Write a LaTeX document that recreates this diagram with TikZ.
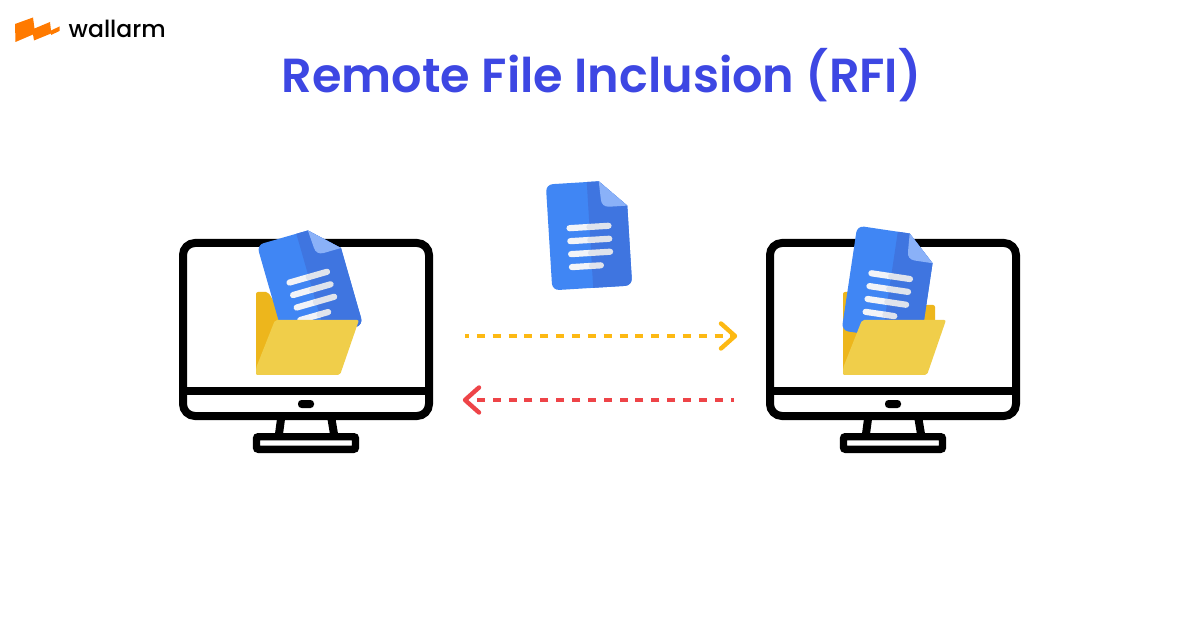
\documentclass[tikz,border=0pt]{standalone}
\usepackage{fontspec}
\newfontfamily\titlefont{Poppins SemiBold}
\newfontfamily\brandfont{Poppins Medium}
\usetikzlibrary{calc}
\definecolor{titleblue}{HTML}{3D47E3}
\definecolor{docblue}{HTML}{4086F4}
\definecolor{docdark}{HTML}{3F75E0}
\definecolor{docfold}{HTML}{8AB1F8}
\definecolor{backfold}{HTML}{EDB61C}
\definecolor{frontfold}{HTML}{F0CE4A}
\definecolor{arrowyellow}{HTML}{FDB913}
\definecolor{arrowred}{HTML}{EE4448}
\definecolor{logoorange}{HTML}{FF7A00}
\definecolor{linelight}{HTML}{F2F4F8}
\definecolor{lineshade}{HTML}{DFE3EC}
\newcommand{\docoutline}{(-33,-53) -- (13,-53) -- (40,-27) -- (40,46) .. controls (40,50) and (37,53) .. (33,53) -- (-33,53) .. controls (-37,53) and (-40,50) .. (-40,46) -- (-40,-46) .. controls (-40,-50) and (-37,-53) .. (-33,-53) -- cycle}
\tikzset{
  x=1pt,y=-1pt,
  screen/.style={draw=black,line width=8pt,fill=white,rounded corners=12pt},
  stroke/.style={draw=black,line width=8pt},
  textrow/.style={line width=6.2pt,line cap=round},
  yellowdash/.style={draw=arrowyellow,line width=4pt,dash pattern=on 8pt off 7.85pt,dash phase=4pt},
  reddash/.style={draw=arrowred,line width=4pt,dash pattern=on 8pt off 7.85pt,dash phase=4.5pt},
  barb/.style={line width=4.4pt,line cap=round,line join=round},
  monitor/.pic={
    \path[screen] (4,4) rectangle (250,177);
    \draw[stroke] (4,152) -- (250,152);
    \fill[black,rounded corners=3.5pt] (119,161) rectangle (135,169);
    \draw[stroke] (102,180) -- (100,195);
    \draw[stroke] (152.5,180) -- (155,195);
    \draw[stroke,line width=7.4pt,rounded corners=2pt] (77.5,197.7) rectangle (176.5,210.3);
  },
  folderback/.pic={
    \fill[backfold,rounded corners=2pt] (0,0) -- (12,0) -- (20,13) -- (92,13) -- (92,40) -- (40,83) -- (0,83) -- cycle;
  },
  folderfront/.pic={
    \fill[frontfold,rounded corners=2pt] (19,28) -- (103,28) -- (84,83) -- (0,83) -- (0,76) -- cycle;
  },
  docpage/.pic={
    \fill[docblue] \docoutline;
    \begin{scope}
      \clip \docoutline;
      \fill[docdark] (1,-60) rectangle (50,60);
    \end{scope}
    \fill[docfold] (13,-53) -- (40,-27) -- (22,-27) .. controls (17,-27) and (14,-30) .. (14,-35) -- cycle;
    \foreach \r/\e in {-8/20,5/20,18/20,31/10}{
      \draw[textrow,linelight] (-19,\r) -- (1,\r);
      \draw[textrow,lineshade] (1,\r) -- (\e,\r);
    }
  }
}
\begin{document}
\begin{tikzpicture}
\useasboundingbox[fill=white] (0,0) rectangle (1200,628);

% logo
\fill[logoorange] (15,24) -- (33,17.5) -- (34.5,28.5) -- (50,22) -- (51,30.5) -- (59.5,26.5) -- (59.5,31) -- (51,35) -- (51,33.5) -- (34,40.5) -- (33,34.5) -- (15.5,42) -- cycle;
\node[anchor=base west,inner sep=0pt,font=\brandfont\fontsize{23.5}{23.5}\selectfont] (brand) at (68.5,38) {wallarm};

% title
\node[anchor=base,inner sep=0pt,text=titleblue,font=\titlefont\fontsize{47.8}{47.8}\selectfont] (title) at (601.5,93) {Remote File Inclusion (RFI)};

% left monitor
\pic at (179,239) {monitor};
\pic at (256,292) {folderback};
\pic[rotate=16] at (310,285) {docpage};
\pic at (256,292) {folderfront};

% right monitor
\pic at (766,239) {monitor};
\pic at (843,292) {folderback};
\pic[rotate=-8.5] at (889,284) {docpage};
\pic at (843,292) {folderfront};

% document in transit
\pic[rotate=3.5] at (589,235) {docpage};

% arrows
\coordinate (ya) at (465,336);
\coordinate (yb) at (735,336);
\coordinate (ra) at (734,400);
\coordinate (rb) at (465,400);
\path[yellowdash] (ya) -- ($(yb)+(-2,0)$);
\draw[barb,arrowyellow] ($(yb)+(-14,-12.5)$) -- (yb) -- ($(yb)+(-14,12.5)$);
\path[reddash] (ra) -- ($(rb)+(12,0)$);
\draw[barb,arrowred] ($(rb)+(14,-12.5)$) -- (rb) -- ($(rb)+(14,12.5)$);
\end{tikzpicture}
\end{document}
